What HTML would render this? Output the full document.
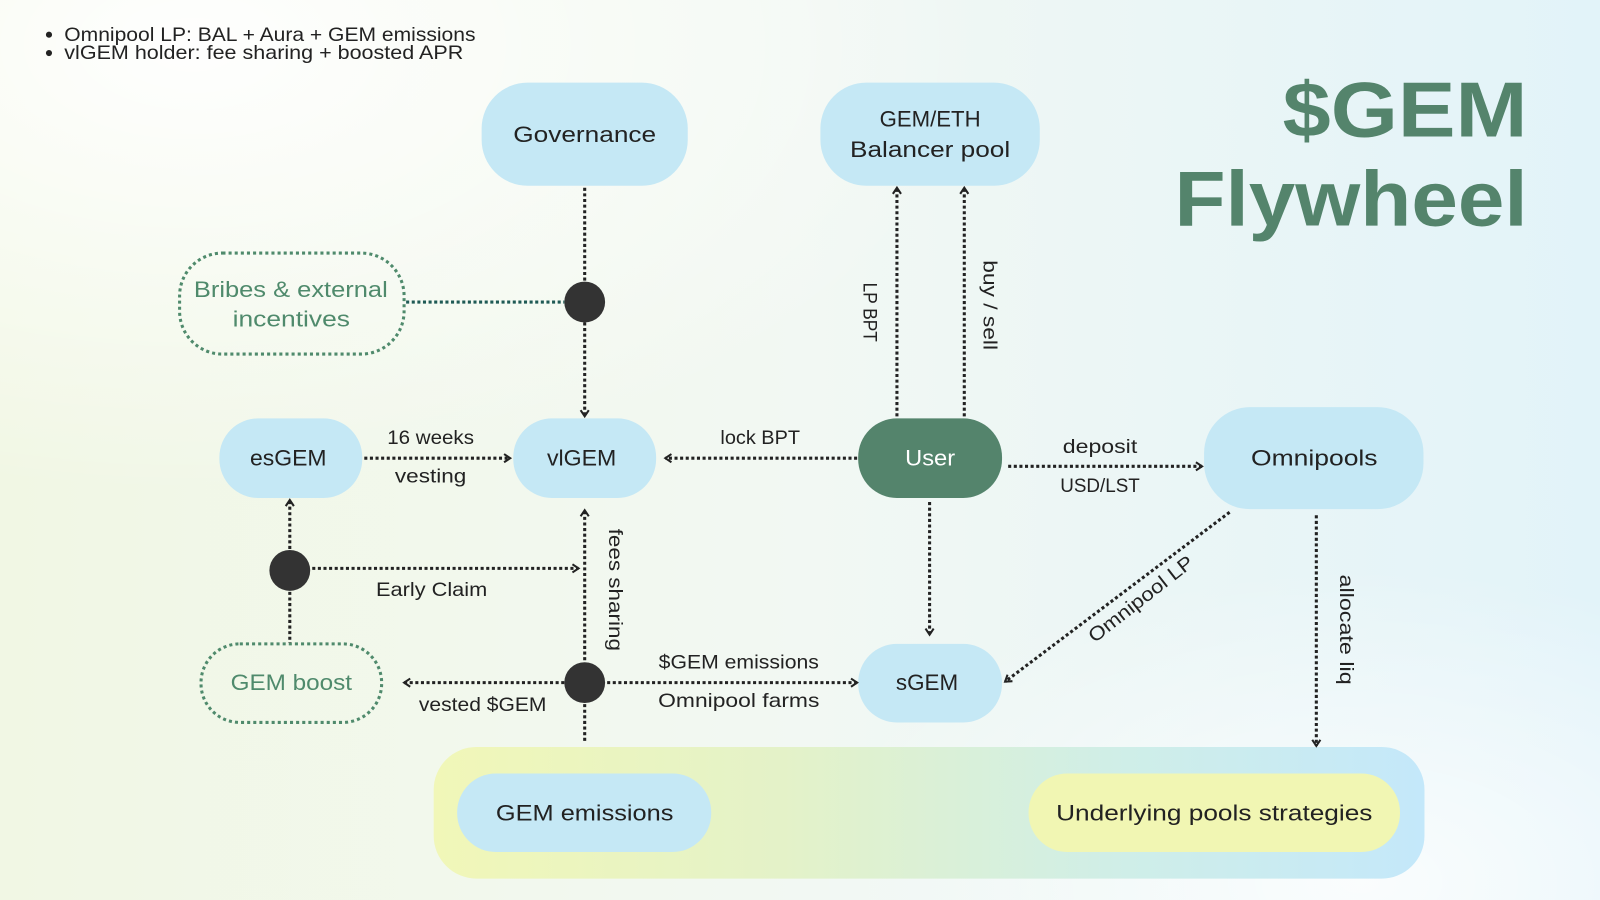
<!DOCTYPE html>
<html><head><meta charset="utf-8"><style>
html,body{margin:0;padding:0;width:1600px;height:900px;overflow:hidden}
svg{display:block}
text{font-family:"Liberation Sans",sans-serif}
</style></head><body>
<svg width="1600" height="900" viewBox="0 0 1568 882" preserveAspectRatio="none" xmlns="http://www.w3.org/2000/svg">
<defs>
<linearGradient id="bg" x1="0" y1="0" x2="1" y2="0">
<stop offset="0" stop-color="#f1f7e4"/><stop offset="0.5" stop-color="#f2f8f3"/><stop offset="1" stop-color="#e2f3f9"/>
</linearGradient>
<radialGradient id="bg2" cx="0.12" cy="0.05" r="0.5">
<stop offset="0" stop-color="#ffffff" stop-opacity="0.95"/><stop offset="1" stop-color="#ffffff" stop-opacity="0"/>
</radialGradient>
<radialGradient id="bg3" cx="0.85" cy="0.98" r="0.35">
<stop offset="0" stop-color="#ffffff" stop-opacity="0.8"/><stop offset="1" stop-color="#ffffff" stop-opacity="0"/>
</radialGradient>
<linearGradient id="cont" x1="0" y1="0" x2="1" y2="0">
<stop offset="0" stop-color="#f1f7b8"/><stop offset="0.35" stop-color="#e4f2c8"/><stop offset="0.7" stop-color="#cfeee8"/><stop offset="1" stop-color="#c4e8fa"/>
</linearGradient>
<marker id="ar" viewBox="0 0 10 10" refX="8" refY="5" markerWidth="10" markerHeight="10" markerUnits="userSpaceOnUse" orient="auto">
<path d="M2,1 L8,5 L2,9" fill="none" stroke="#222" stroke-width="2"/>
</marker>
</defs>
<rect width="1568" height="882" fill="url(#bg)"/>
<rect width="1568" height="882" fill="url(#bg2)"/>
<rect width="1568" height="882" fill="url(#bg3)"/>

<circle cx="48" cy="34" r="3" fill="#222"/><circle cx="48" cy="52" r="3" fill="#222"/>
<text x="63" y="40" font-size="19" fill="#222" textLength="403" lengthAdjust="spacingAndGlyphs">Omnipool LP: BAL + Aura + GEM emissions</text>
<text x="63" y="58" font-size="19" fill="#222" textLength="391" lengthAdjust="spacingAndGlyphs">vlGEM holder: fee sharing + boosted APR</text>

<text x="1257" y="134" font-size="76" font-weight="bold" fill="#54846c" textLength="240" lengthAdjust="spacingAndGlyphs">$GEM</text>
<text x="1151" y="221" font-size="76" font-weight="bold" fill="#54846c" textLength="346" lengthAdjust="spacingAndGlyphs">Flywheel</text>

<rect x="425" y="732" width="971" height="129" rx="42" fill="url(#cont)"/>
<rect x="448" y="758" width="249" height="77" rx="38" fill="#c5e8f5"/>
<text x="486" y="804" font-size="22" fill="#222" textLength="174" lengthAdjust="spacingAndGlyphs">GEM  emissions</text>
<rect x="1008" y="758" width="364" height="77" rx="38" fill="#f1f6b3"/>
<text x="1035" y="804" font-size="22" fill="#222" textLength="310" lengthAdjust="spacingAndGlyphs">Underlying pools strategies</text>

<g fill="#c5e8f5">
<rect x="472" y="81" width="202" height="101" rx="45"/>
<rect x="804" y="81" width="215" height="101" rx="45"/>
<rect x="215" y="410" width="140" height="78" rx="38"/>
<rect x="503" y="410" width="140" height="78" rx="38"/>
<rect x="1180" y="399" width="215" height="100" rx="45"/>
<rect x="841" y="631" width="141" height="77" rx="38"/>
</g>
<rect x="841" y="410" width="141" height="78" rx="38" fill="#54846c"/>
<rect x="176" y="248" width="220" height="99" rx="42" fill="none" stroke="#4f8a6c" stroke-width="3" stroke-dasharray="3 3"/>
<rect x="197" y="631" width="177" height="77" rx="38" fill="none" stroke="#4f8a6c" stroke-width="3" stroke-dasharray="3 3"/>

<g font-size="22" fill="#222" lengthAdjust="spacingAndGlyphs">
<text x="503" y="139" textLength="140" lengthAdjust="spacingAndGlyphs">Governance</text>
<text x="862" y="124" textLength="99" lengthAdjust="spacingAndGlyphs">GEM/ETH</text>
<text x="833" y="154" textLength="157" lengthAdjust="spacingAndGlyphs">Balancer pool</text>
<text x="245" y="456" textLength="75" lengthAdjust="spacingAndGlyphs">esGEM</text>
<text x="536" y="456" textLength="68" lengthAdjust="spacingAndGlyphs">vlGEM</text>
<text x="887" y="456" fill="#fff" textLength="49" lengthAdjust="spacingAndGlyphs">User</text>
<text x="1226" y="456" textLength="124" lengthAdjust="spacingAndGlyphs">Omnipools</text>
<text x="878" y="676" textLength="61" lengthAdjust="spacingAndGlyphs">sGEM</text>
</g>
<g font-size="22" fill="#4f8a6c">
<text x="190" y="291" textLength="190" lengthAdjust="spacingAndGlyphs">Bribes &amp; external</text>
<text x="228" y="320" textLength="115" lengthAdjust="spacingAndGlyphs">incentives</text>
<text x="226" y="676" textLength="119" lengthAdjust="spacingAndGlyphs">GEM boost</text>
</g>

<g fill="#333"><circle cx="573" cy="296" r="20"/><circle cx="284" cy="559" r="20"/><circle cx="573" cy="669" r="20"/></g>

<g stroke="#222" stroke-width="3" stroke-dasharray="3 2.5" fill="none">
<line x1="573" y1="184" x2="573" y2="276"/>
<line x1="573" y1="316" x2="573" y2="408" marker-end="url(#ar)"/>
<line x1="398" y1="296" x2="553" y2="296" stroke="#1f5a55"/>
<line x1="357" y1="449" x2="500" y2="449" marker-end="url(#ar)"/>
<line x1="840" y1="449" x2="652" y2="449" marker-end="url(#ar)"/>
<line x1="988" y1="457" x2="1178" y2="457" marker-end="url(#ar)"/>
<line x1="879" y1="408" x2="879" y2="184" marker-end="url(#ar)"/>
<line x1="945" y1="408" x2="945" y2="184" marker-end="url(#ar)"/>
<line x1="911" y1="492" x2="911" y2="622" marker-end="url(#ar)"/>
<line x1="1205" y1="502" x2="985" y2="668" marker-end="url(#ar)"/>
<line x1="1290" y1="505" x2="1290" y2="731" marker-end="url(#ar)"/>
<line x1="284" y1="538" x2="284" y2="490" marker-end="url(#ar)"/>
<line x1="284" y1="580" x2="284" y2="630"/>
<line x1="306" y1="557" x2="567" y2="557" marker-end="url(#ar)"/>
<line x1="573" y1="647" x2="573" y2="500" marker-end="url(#ar)"/>
<line x1="573" y1="690" x2="573" y2="728"/>
<line x1="553" y1="669" x2="396" y2="669" marker-end="url(#ar)"/>
<line x1="595" y1="669" x2="840" y2="669" marker-end="url(#ar)"/>
</g>

<g font-size="19" fill="#222" text-anchor="middle">
<text x="422" y="435" textLength="85" lengthAdjust="spacingAndGlyphs">16 weeks</text>
<text x="422" y="473" textLength="70" lengthAdjust="spacingAndGlyphs">vesting</text>
<text x="745" y="435" textLength="78" lengthAdjust="spacingAndGlyphs">lock BPT</text>
<text x="1078" y="444" textLength="73" lengthAdjust="spacingAndGlyphs">deposit</text>
<text x="1078" y="482" textLength="78" lengthAdjust="spacingAndGlyphs">USD/LST</text>
<text x="423" y="584" textLength="109" lengthAdjust="spacingAndGlyphs">Early Claim</text>
<text x="473" y="697" textLength="125" lengthAdjust="spacingAndGlyphs">vested $GEM</text>
<text x="724" y="655" textLength="157" lengthAdjust="spacingAndGlyphs">$GEM emissions</text>
<text x="724" y="693" textLength="158" lengthAdjust="spacingAndGlyphs">Omnipool farms</text>
<text transform="translate(846,306) rotate(90)" textLength="58" lengthAdjust="spacingAndGlyphs">LP BPT</text>
<text transform="translate(964,299) rotate(90)" textLength="88" lengthAdjust="spacingAndGlyphs">buy / sell</text>
<text transform="translate(597,578) rotate(90)" textLength="120" lengthAdjust="spacingAndGlyphs">fees sharing</text>
<text transform="translate(1313,617) rotate(90)" textLength="108" lengthAdjust="spacingAndGlyphs">allocate liq</text>
<text transform="translate(1122,592) rotate(-38)" textLength="125" lengthAdjust="spacingAndGlyphs">Omnipool LP</text>
</g>
</svg>
</body></html>
